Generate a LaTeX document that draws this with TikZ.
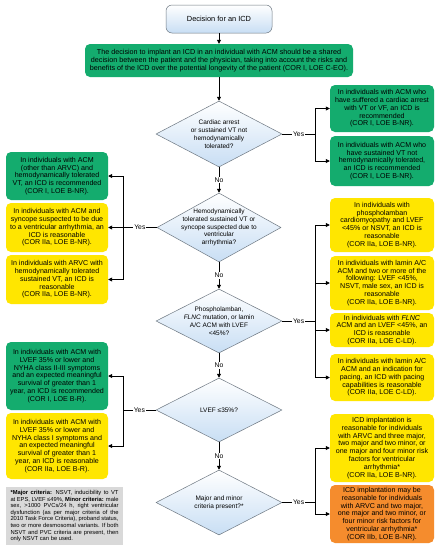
\documentclass[tikz,border=0pt]{standalone}
\usepackage{fontspec}
\setmainfont{Liberation Sans}
\usetikzlibrary{shapes.geometric,arrows.meta}
\definecolor{cgreen}{RGB}{20,172,110}
\definecolor{cyellow}{RGB}{255,230,0}
\definecolor{corange}{RGB}{245,140,45}
\definecolor{cgray}{RGB}{217,217,217}
\definecolor{cblue}{RGB}{200,222,244}
\definecolor{cborder}{RGB}{110,120,130}
\begin{document}
\begin{tikzpicture}[x=1pt,y=-1pt,
  box/.style={rectangle, rounded corners=5pt, align=center, inner sep=0pt, font=\fontsize{7.1}{7.8}\selectfont},
  gbox/.style={box, fill=cgreen},
  ybox/.style={box, fill=cyellow},
  obox/.style={box, fill=corange},
  dia/.style={diamond, draw=cborder, line width=0.5pt, top color=white, bottom color=cblue, inner sep=0pt},
  dtext/.style={align=center, inner sep=0pt, font=\fontsize{6.5}{7.8}\selectfont},
  arr/.style={-{Triangle[length=4pt,width=4pt]}, line width=0.75pt},
  ln/.style={line width=0.75pt},
  lab/.style={fill=white, inner sep=1pt, font=\fontsize{6.8}{7}\selectfont}
]
\useasboundingbox (0,0) rectangle (438,550);
\fill[white] (0,0) rectangle (438,550);

% start
\node[rectangle, rounded corners=6pt, draw=cborder, line width=0.5pt, top color=white, bottom color=cblue,
  minimum width=106pt, minimum height=28pt, font=\fontsize{7.4}{8}\selectfont] (start) at (219,19) {Decision for an ICD};

\node[gbox, minimum width=268pt, minimum height=33pt, font=\fontsize{7.2}{8.3}\selectfont] (G0) at (219,60.5) {The decision to implant an ICD in an individual with ACM should be a shared\\decision between the patient and the physician, taking into account the risks and\\benefits of the ICD over the potential longevity of the patient (COR I, LOE C-EO).};

% diamond 1
\node[dia, minimum width=126pt, minimum height=66pt] (D1) at (219,134) {};
\node[dtext] (D1t) at (D1) {Cardiac arrest\\or sustained VT not\\hemodynamically\\tolerated?};
\node[gbox, minimum width=104pt, minimum height=47pt] (R1) at (382,108.5) {In individuals with ACM who\\have suffered a cardiac arrest\\with VT or VF, an ICD is\\recommended\\(COR I, LOE B-NR).};
\node[gbox, minimum width=104pt, minimum height=50pt] (R2) at (382,161) {In individuals with ACM who\\have sustained VT not\\hemodynamically tolerated,\\an ICD is recommended\\(COR I, LOE B-NR).};

% diamond 2
\node[dia, minimum width=124pt, minimum height=69pt] (D2) at (219,227.5) {};
\node[dtext] (D2t) at (D2) {Hemodynamically\\tolerated sustained VT or\\syncope suspected due to\\ventricular\\arrhythmia?};
\node[gbox, minimum width=102pt, minimum height=48pt] (L1) at (57,176) {In individuals with ACM\\(other than ARVC) and\\hemodynamically tolerated\\VT, an ICD is recommended\\(COR I, LOE B-NR).};
\node[ybox, minimum width=102pt, minimum height=49pt] (L2) at (57,227.5) {In individuals with ACM and\\syncope suspected to be due\\to a ventricular arrhythmia, an\\ICD is reasonable\\(COR IIa, LOE B-NR).};
\node[ybox, minimum width=102pt, minimum height=49pt] (L3) at (57,279.5) {In individuals with ARVC with\\hemodynamically tolerated\\sustained VT, an ICD is\\reasonable\\(COR IIa, LOE B-NR).};

% diamond 3
\node[dia, minimum width=126pt, minimum height=64pt] (D3) at (219,321) {};
\node[dtext] (D3t) at (D3) {Phospholamban,\\\textit{FLNC} mutation, or lamin\\A/C ACM with LVEF\\<45\%?};
\node[ybox, minimum width=104pt, minimum height=54pt] (Y1) at (382,225) {In individuals with\\phospholamban\\cardiomyopathy and LVEF\\<45\% or NSVT, an ICD is\\reasonable\\(COR IIa, LOE B-NR).};
\node[ybox, minimum width=104pt, minimum height=54pt] (Y2) at (382,283) {In individuals with lamin A/C\\ACM and two or more of the\\following: LVEF <45\%,\\NSVT, male sex, an ICD is\\reasonable\\(COR IIa, LOE B-NR).};
\node[ybox, minimum width=104pt, minimum height=34pt] (Y3) at (382,330) {In individuals with \textit{FLNC}\\ACM and an LVEF <45\%, an\\ICD is reasonable\\(COR IIa, LOE C-LD).};
\node[ybox, minimum width=104pt, minimum height=47pt] (Y4) at (382,377.5) {In individuals with lamin A/C\\ACM and an indication for\\pacing, an ICD with pacing\\capabilities is reasonable\\(COR IIa, LOE C-LD).};

% diamond 4
\node[dia, minimum width=126pt, minimum height=64pt] (D4) at (219,410) {};
\node[dtext] (D4t) at (D4) {LVEF ≤35\%?};
\node[gbox, minimum width=102pt, minimum height=68pt] (L4) at (57,376) {In individuals with ACM with\\LVEF 35\% or lower and\\NYHA class II-III symptoms\\and an expected meaningful\\survival of greater than 1\\year, an ICD is recommended\\(COR I, LOE B-R).};
\node[ybox, minimum width=102pt, minimum height=66pt] (L5) at (57,446) {In individuals with ACM with\\LVEF 35\% or lower and\\NYHA class I symptoms and\\an expected meaningful\\survival of greater than 1\\year, an ICD is reasonable\\(COR IIa, LOE B-R).};

% diamond 5
\node[dia, minimum width=126pt, minimum height=65pt] (D5) at (219,502.5) {};
\node[dtext] (D5t) at (D5) {Major and minor\\criteria present?*};
\node[ybox, minimum width=104pt, minimum height=68pt] (Y5) at (382,448) {ICD implantation is\\reasonable for individuals\\with ARVC and three major,\\two major and two minor, or\\one major and four minor risk\\factors for ventricular\\arrhythmia*\\(COR IIa, LOE B-NR).};
\node[obox, minimum width=104pt, minimum height=58pt] (O1) at (382,514) {ICD implantation may be\\reasonable for individuals\\with ARVC and two major,\\one major and two minor, or\\four minor risk factors for\\ventricular arrhythmia*\\(COR IIb, LOE B-NR).};

% footnote
\node[rectangle, fill=cgray, minimum width=117pt, minimum height=58pt, inner sep=0pt] (F) at (64.5,516) {};
\node[text width=108pt, align=justify, inner sep=0pt, font=\fontsize{5.8}{6.6}\selectfont] (Ft) at (F) {\textbf{*Major criteria:} NSVT, inducibility to VT\linebreak at EPS, LVEF ≤49\%, \textbf{Minor criteria:} male\linebreak sex, >1000 PVCs/24 h, right ventricular\linebreak dysfunction (as per major criteria of the\linebreak 2010 Task Force Criteria), proband status,\linebreak two or more desmosomal variants. If both\linebreak NSVT and PVC criteria are present, then\linebreak only NSVT can be used.};

% junctions
\coordinate (jR1) at (315,134);
\coordinate (jL2) at (123,227.5);
\coordinate (jR3) at (315,321);
\coordinate (jL4) at (123,410);
\coordinate (jR5) at (315,502.5);

% connectors
\draw[arr] (start) -- (G0);
\draw[arr] (G0) -- (D1);
\draw[arr] (D1.south) -- node[lab]{No} (D2.north);
\draw[arr] (D2.south) -- node[lab]{No} (D3.north);
\draw[arr] (D3.south) -- node[lab]{No} (D4.north);
\draw[arr] (D4.south) -- node[lab]{No} (D5.north);

\draw[ln] (D1.east) -- node[lab]{Yes} (jR1);
\draw[arr] (jR1) |- (R1.west);
\draw[arr] (jR1) |- (R2.west);

\draw[ln] (D2.west) -- node[lab]{Yes} (jL2);
\draw[arr] (jL2) |- (L1.east);
\draw[arr] (jL2) -- (L2.east);
\draw[arr] (jL2) |- (L3.east);

\draw[ln] (D3.east) -- node[lab]{Yes} (jR3);
\draw[arr] (jR3) |- (Y1.west);
\draw[arr] (jR3) |- (Y2.west);
\draw[arr] (jR3) |- (Y3.west);
\draw[arr] (jR3) |- (Y4.west);

\draw[ln] (D4.west) -- node[lab]{Yes} (jL4);
\draw[arr] (jL4) |- (L4.east);
\draw[arr] (jL4) |- (L5.east);

\draw[ln] (D5.east) -- node[lab]{Yes} (jR5);
\draw[arr] (jR5) |- (Y5.west);
\draw[arr] (jR5) |- (O1.west);
\end{tikzpicture}
\end{document}
